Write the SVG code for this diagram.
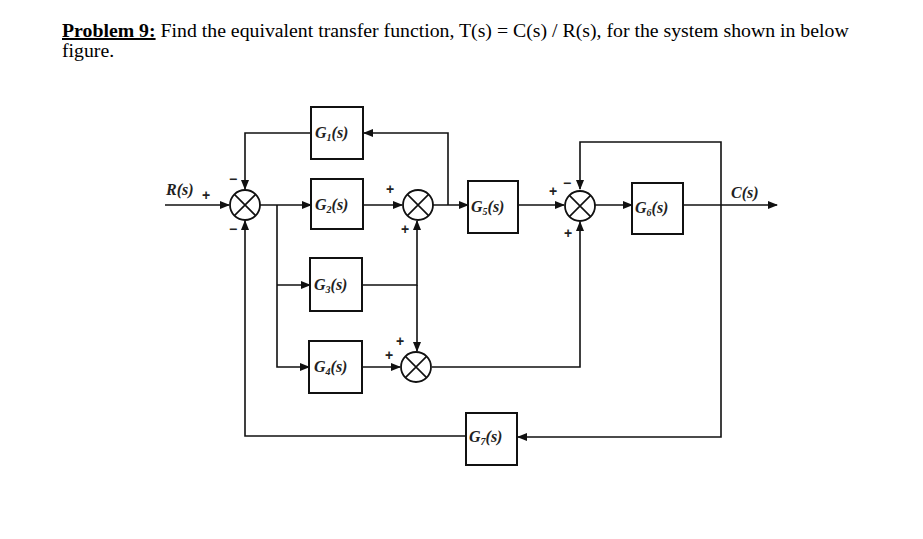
<svg xmlns="http://www.w3.org/2000/svg" width="923" height="539" viewBox="0 0 923 539">
<style>
.t{font-family:"Liberation Serif",serif;font-size:19.8px;fill:#000}
.b{fill:#fff;stroke:#111;stroke-width:2}
.l{font-family:"Liberation Serif",serif;font-size:16px;font-weight:bold;font-style:italic;fill:#222}
.s{font-size:10px}
.c{fill:#fff;stroke:#111;stroke-width:1.8}
.w{fill:none;stroke:#111;stroke-width:1.6}
.sg{font-family:"Liberation Sans",sans-serif;font-size:14px;font-weight:bold;fill:#222}
</style>
<defs><marker id="a" markerWidth="10" markerHeight="8" refX="9" refY="4" orient="auto" markerUnits="userSpaceOnUse"><path d="M0,0 L10,4 L0,8 Z" fill="#111"/></marker></defs>
<rect width="923" height="539" fill="#fff"/>
<text class="t" x="62" y="37"><tspan font-weight="bold" text-decoration="underline">Problem 9:</tspan> Find the equivalent transfer function, T(s) = C(s) / R(s), for the system shown in below</text>
<text class="t" x="62" y="57">figure.</text>
<g id="connectors" class="w">
<path d="M165,205 H229" marker-end="url(#a)"/>
<path d="M311,133 H245 V189" marker-end="url(#a)"/>
<path d="M448,205 V133 H364" marker-end="url(#a)"/>
<path d="M260,205 H311" marker-end="url(#a)"/>
<path d="M277,205 V367 H309" marker-end="url(#a)"/>
<path d="M277,285 H310" marker-end="url(#a)"/>
<path d="M363,205 H402" marker-end="url(#a)"/>
<path d="M433,205 H468" marker-end="url(#a)"/>
<path d="M362,285 H417 V221" marker-end="url(#a)"/>
<path d="M417,285 V351" marker-end="url(#a)"/>
<path d="M362,367 H400" marker-end="url(#a)"/>
<path d="M432,367 H580 V222" marker-end="url(#a)"/>
<path d="M518,205 H564" marker-end="url(#a)"/>
<path d="M595,205 H632" marker-end="url(#a)"/>
<path d="M683,205 H777" marker-end="url(#a)"/>
<path d="M721,205 V142 H580 V189" marker-end="url(#a)"/>
<path d="M721,205 V437 H518" marker-end="url(#a)"/>
<path d="M466,436 H245 V221" marker-end="url(#a)"/>
</g>
<g id="sum1"><circle class="c" cx="245" cy="205" r="15"/><path class="w" d="M234.4,194.4 L255.6,215.6 M255.6,194.4 L234.4,215.6"/>
<text class="sg" x="202" y="200">+</text><text class="sg" x="229" y="184">−</text><text class="sg" x="229" y="234">−</text></g>
<g id="sum2"><circle class="c" cx="418" cy="205" r="15"/><path class="w" d="M407.4,194.4 L428.6,215.6 M428.6,194.4 L407.4,215.6"/>
<text class="sg" x="386" y="194">+</text><text class="sg" x="401" y="234">+</text></g>
<g id="sum3"><circle class="c" cx="416" cy="367" r="15"/><path class="w" d="M405.4,356.4 L426.6,377.6 M426.6,356.4 L405.4,377.6"/>
<text class="sg" x="396" y="346">+</text><text class="sg" x="385" y="360">+</text></g>
<g id="sum4"><circle class="c" cx="580" cy="206" r="15"/><path class="w" d="M569.4,195.4 L590.6,216.6 M590.6,195.4 L569.4,216.6"/>
<text class="sg" x="549" y="196">+</text><text class="sg" x="563" y="188">−</text><text class="sg" x="564" y="238">+</text></g>
<g id="G1"><rect class="b" x="311" y="107" width="52" height="52"/><text class="l" x="315" y="138">G<tspan class="s" dy="3">1</tspan><tspan dy="-3">(s)</tspan></text></g>
<g id="G2"><rect class="b" x="311" y="179" width="52" height="50"/><text class="l" x="315" y="210">G<tspan class="s" dy="3">2</tspan><tspan dy="-3">(s)</tspan></text></g>
<g id="G3"><rect class="b" x="310" y="258" width="52" height="53"/><text class="l" x="314" y="290">G<tspan class="s" dy="3">3</tspan><tspan dy="-3">(s)</tspan></text></g>
<g id="G4"><rect class="b" x="309" y="341" width="53" height="52"/><text class="l" x="314" y="372">G<tspan class="s" dy="3">4</tspan><tspan dy="-3">(s)</tspan></text></g>
<g id="G5"><rect class="b" x="468" y="181" width="50" height="52"/><text class="l" x="471" y="212">G<tspan class="s" dy="3">5</tspan><tspan dy="-3">(s)</tspan></text></g>
<g id="G6"><rect class="b" x="632" y="183" width="51" height="51"/><text class="l" x="635" y="213">G<tspan class="s" dy="3">6</tspan><tspan dy="-3">(s)</tspan></text></g>
<g id="G7"><rect class="b" x="466" y="413" width="51" height="52"/><text class="l" x="469" y="442">G<tspan class="s" dy="3">7</tspan><tspan dy="-3">(s)</tspan></text></g>
<text class="l" x="166" y="195">R(s)</text>
<text class="l" x="731" y="198">C(s)</text>
</svg>
